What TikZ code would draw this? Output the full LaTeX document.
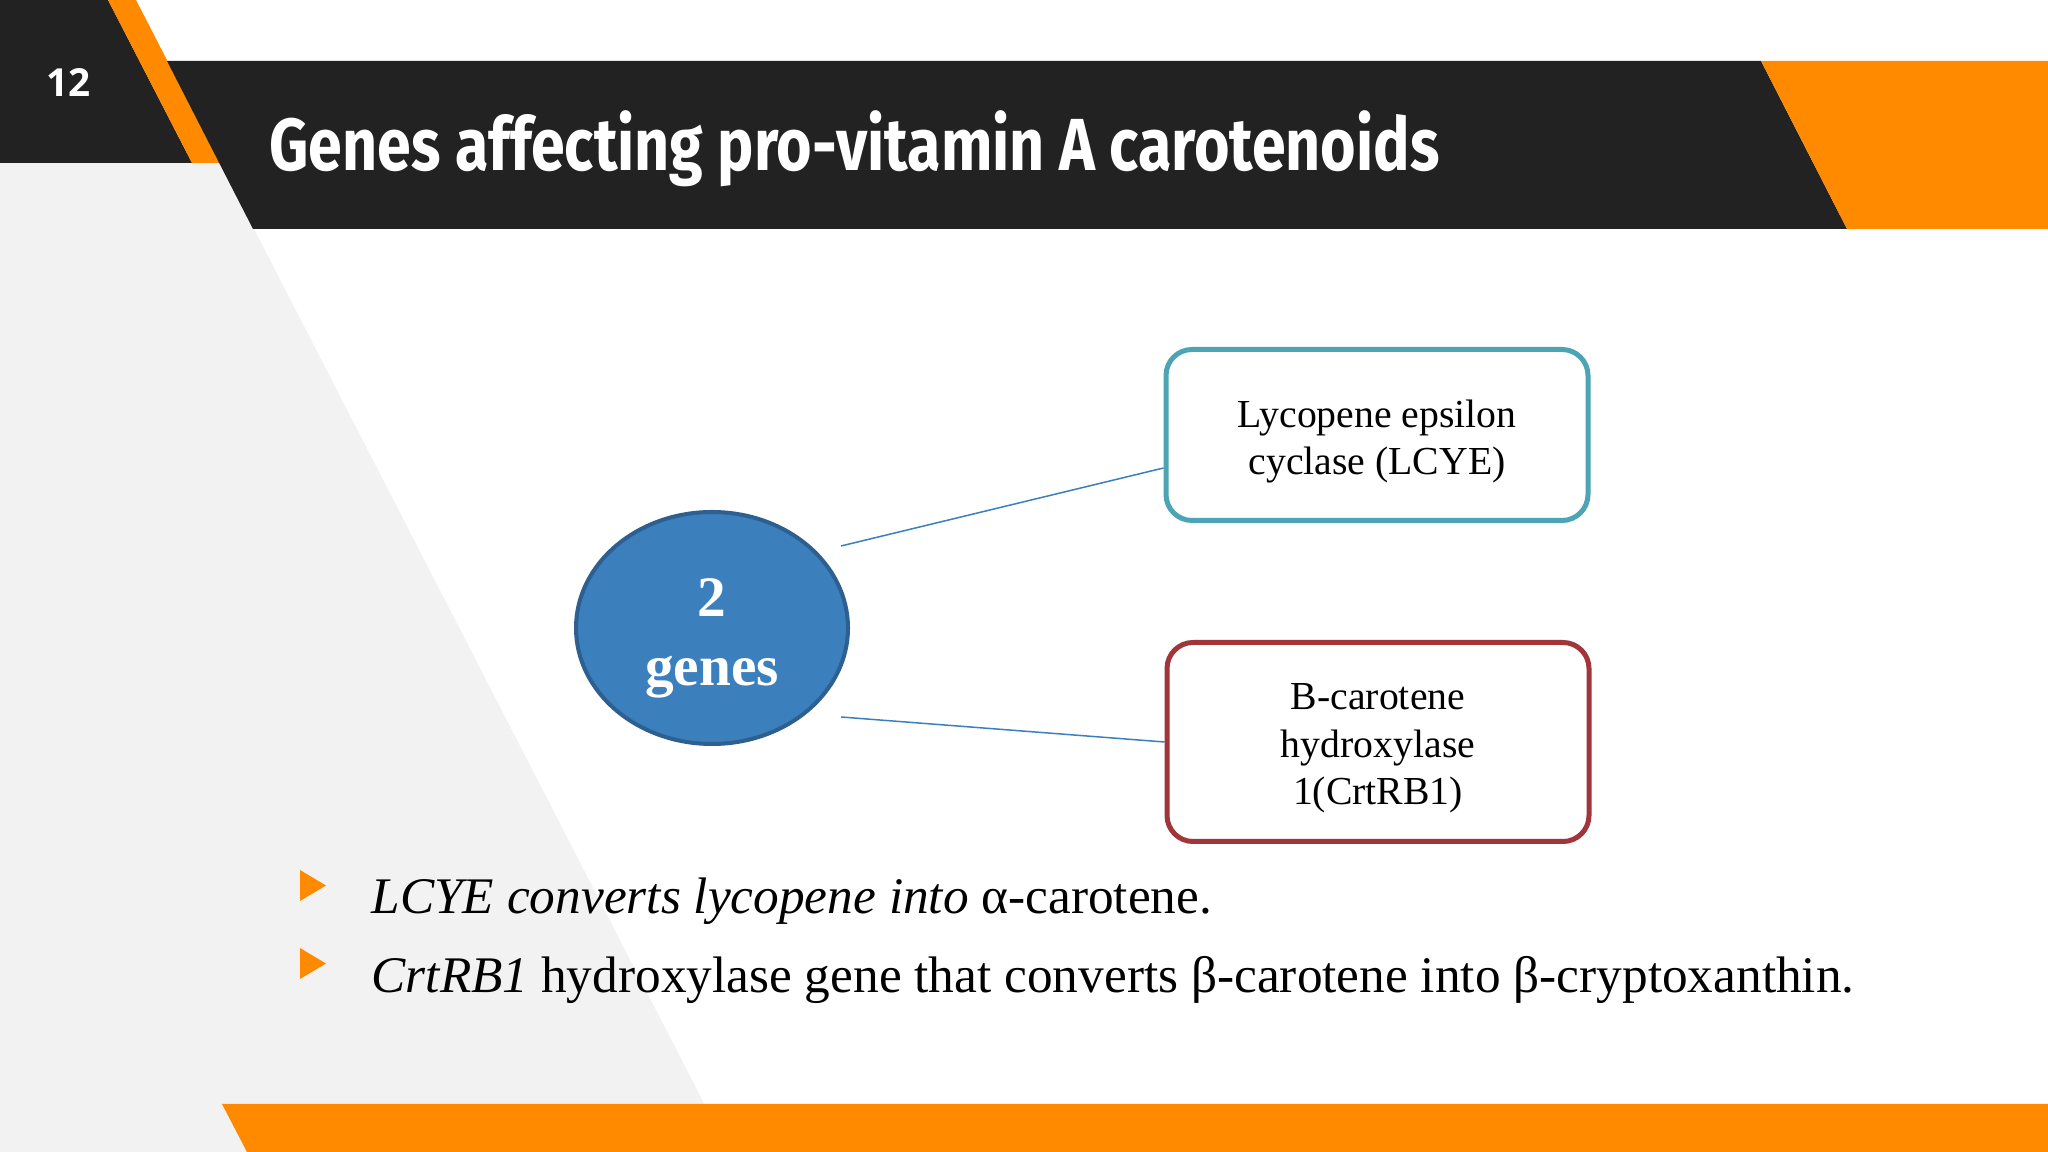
\documentclass[tikz,border=0pt]{standalone}
\usepackage{fontspec}
\setmainfont{Liberation Serif}
\newfontfamily\titlefont[FakeStretch=0.825]{Fira Sans}
\newfontfamily\numfont{Open Sans}
\usetikzlibrary{calc,shapes.geometric}

\definecolor{darkbar}{HTML}{222222}
\definecolor{orangebar}{HTML}{FF8A00}
\definecolor{lightgrey}{HTML}{F2F2F2}
\definecolor{genesblue}{HTML}{3B7FBD}
\definecolor{genesrim}{HTML}{2D5F90}
\definecolor{tealrim}{HTML}{4DA4B4}
\definecolor{redrim}{HTML}{A0353A}

\begin{document}
\begin{tikzpicture}[x=0.1mm,y=-0.1mm]
    \tikzstyle{gene box}=[rectangle,rounded corners=2.6mm,line width=0.5mm,fill=white,minimum width=42.2mm,inner sep=0pt]
    \tikzstyle{box text}=[align=center,inner sep=0pt,yshift=-0.65mm,font=\fontsize{11.3}{13.5}\selectfont]
    \tikzstyle{gene circle}=[ellipse,fill=genesblue,draw=genesrim,line width=0.4mm,minimum width=27.2mm,minimum height=23.2mm,inner sep=0pt]
    \tikzstyle{circle text}=[align=center,inner sep=0pt,yshift=-1.05mm,text=white,font=\bfseries\fontsize{16.3}{19.6}\selectfont]
    \tikzstyle{link}=[draw=genesblue,line width=0.15mm]
    \tikzstyle{bullet text}=[anchor=base west,inner sep=0pt,font=\fontsize{14.6}{17}\selectfont]

    % Background and slide frame
    \useasboundingbox (0,0) rectangle (2048,1152);
    \fill[white] (0,0) rectangle (2048,1152);
    \fill[lightgrey] (0,163) -- (220,163) -- (729,1152) -- (0,1152) -- cycle;
    \fill[darkbar] (0,0) -- (108,0) -- (192,163) -- (0,163) -- cycle;
    \fill[orangebar] (108,0) -- (136,0) -- (220,163) -- (192,163) -- cycle;
    \fill[darkbar] (167,61) -- (1761,61) -- (1847,229) -- (253,229) -- cycle;
    \fill[orangebar] (1761,61) -- (2048,61) -- (2048,229) -- (1847,229) -- cycle;
    \fill[orangebar] (222,1104) -- (2048,1104) -- (2048,1152) -- (247,1152) -- cycle;

    % Slide number and title
    \node[anchor=base west,inner sep=0pt,text=white,font=\numfont\bfseries\fontsize{11}{13}\selectfont] (num) at (46,97) {12};
    \node[anchor=base west,inner sep=0pt,text=white,font=\titlefont\bfseries\fontsize{21}{25}\selectfont] (title) at (269,171) {Genes affecting pro-vitamin A carotenoids};

    % Draw the gene nodes
    \node[gene circle,label={[circle text]center:2\\genes}] (genes) at (712,628) {};
    \node[gene box,draw=tealrim,minimum height=17.1mm,label={[box text]center:Lycopene epsilon\\cyclase (LCYE)}] (lcye) at (1377,435) {};
    \node[gene box,draw=redrim,minimum height=19.9mm,label={[box text]center:B-carotene\\hydroxylase\\1(CrtRB1)}] (crt) at (1378,742) {};

    % Connect the genes with the boxes
    \coordinate (G-1) at ($(genes.center)+(129,-82)$);
    \coordinate (G-2) at ($(genes.center)+(129,89)$);
    \path[link] (G-1) -- ($(lcye.west)+(0,33)$);
    \path[link] (G-2) -- (crt.west);

    % Bullets
    \foreach \y in {870,948}
        \fill[orangebar] (300,\y) -- (326,\y+15.5) -- (300,\y+31) -- cycle;
    \node[bullet text] (bul-1) at (371,914) {\textit{LCYE converts lycopene into} α-carotene.};
    \node[bullet text] (bul-2) at (371,993) {\textit{CrtRB1} hydroxylase gene that converts β-carotene into β-cryptoxanthin.};
\end{tikzpicture}
\end{document}
